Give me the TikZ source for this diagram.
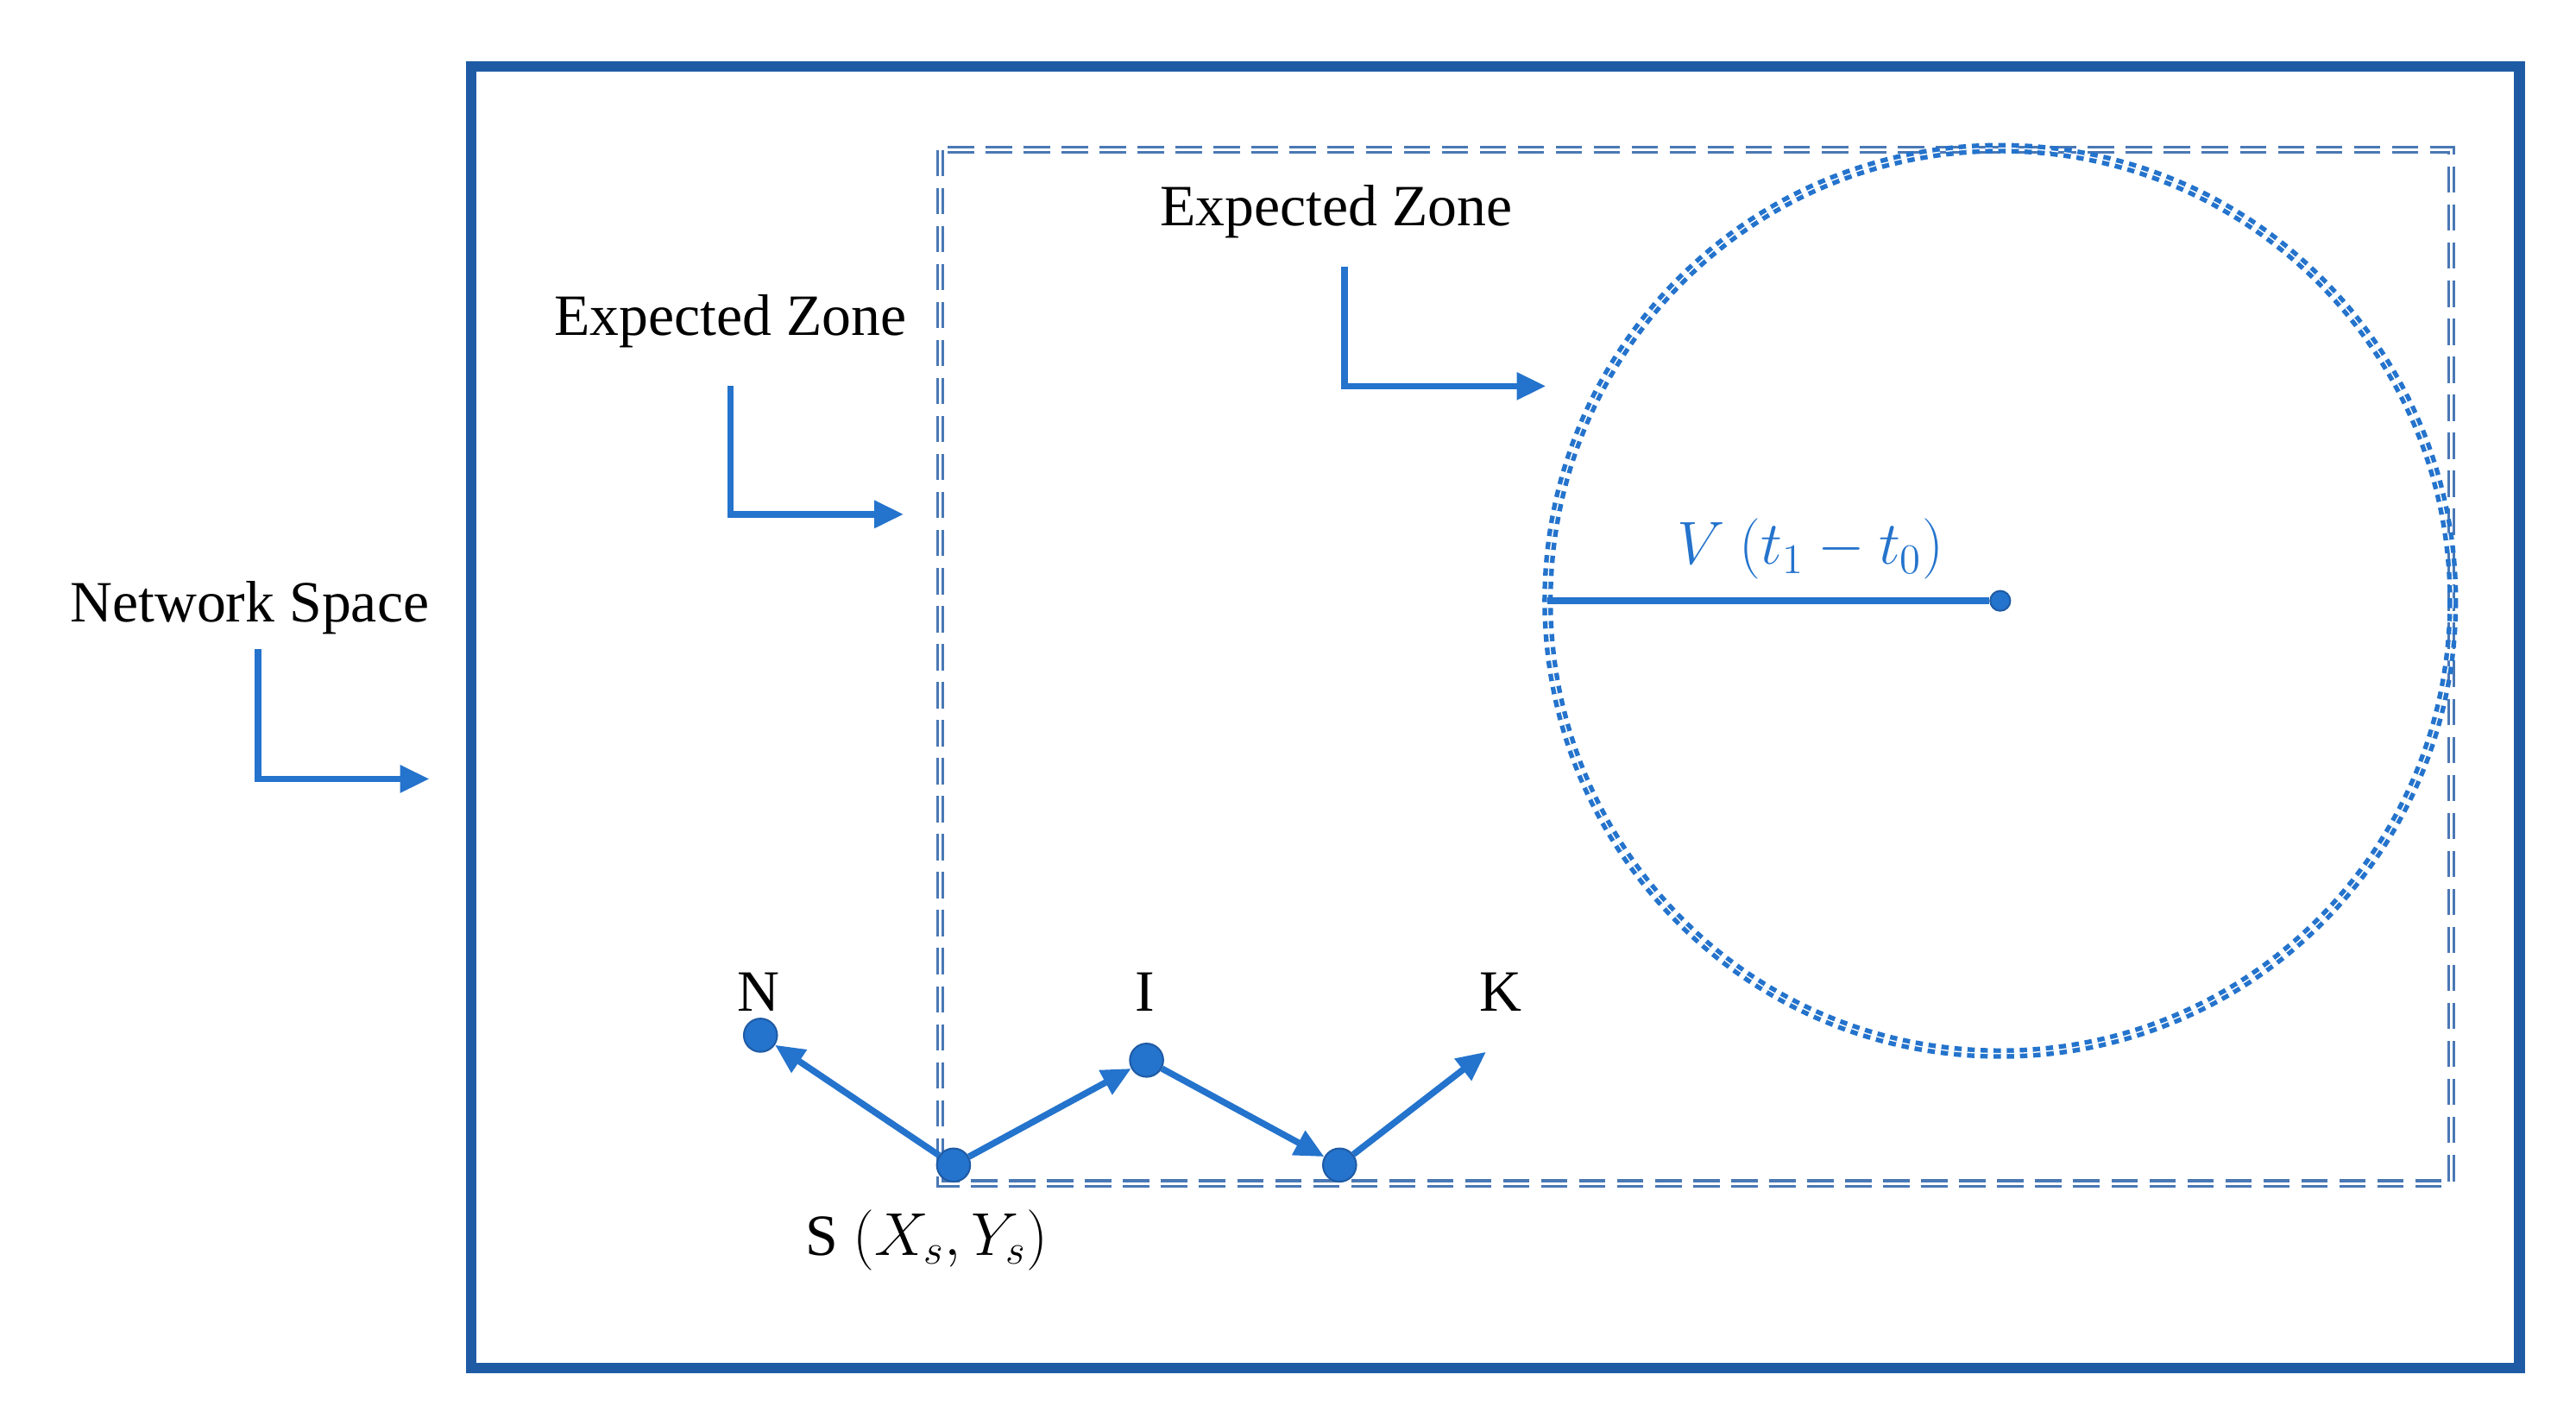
\documentclass[tikz,border=0pt]{standalone}
\usepackage{fontspec}
\setmainfont{Liberation Serif}
\usetikzlibrary{arrows.meta}
\definecolor{frame}{HTML}{1F5BA5}
\definecolor{ab}{HTML}{2473CC}
\definecolor{dz}{HTML}{4A78B5}
\tikzset{
  arr/.style={draw=ab,line width=2.2pt,-{Triangle[length=10pt,width=9pt]}},
  dotn/.style={circle,fill=ab,draw=frame,line width=0.6pt,minimum width=0.36cm,minimum height=0.4cm,inner sep=0pt},
  lbl/.style={font=\fontsize{20}{24}\selectfont,inner sep=0pt},
  dzone/.style={draw=dz,line width=1pt,double=white,double distance=0.9pt,dash pattern=on 9pt off 4pt}
}
\begin{document}
\begin{tikzpicture}[x=0.02cm,y=-0.02cm]
\useasboundingbox (0,0) rectangle (1548,856);
\draw[frame,line width=3.6pt] (283,40) rectangle (1514,822);
\draw[dzone] (565,90) rectangle (1473,711);
\draw[ab,line width=1.6pt,double=white,double distance=0.4pt,dash pattern=on 2.5pt off 2pt] (1202,361) circle [radius=272];
\node[dotn,minimum width=0.22cm,minimum height=0.24cm] (C) at (1202,361) {};
\coordinate (L) at (930,361);
\draw[ab,line width=2.2pt] (L) -- (C);
\node[lbl,text=ab] (V) at (1088,330) {$V\ (t_1 - t_0)$};
% nodes
\node[dotn] (S) at (573,700) {};
\node[dotn] (N) at (457,622) {};
\node[dotn] (I) at (689,637) {};
\node[dotn] (M) at (805,700) {};
\coordinate (K) at (893,632);
\draw[arr] (S) -- (N);
\draw[arr] (S) -- (I);
\draw[arr] (I) -- (M);
\draw[arr] (M) -- (K);
\node[lbl] (tN) at (456,596) {N};
\node[lbl] (tI) at (688,596) {I};
\node[lbl] (tK) at (902,596) {K};
\node[lbl] (tS) at (557,745) {S $(X_s,Y_s)$};
\node[lbl] (ns) at (150,365) {Network Space};
\node[lbl] (e1) at (439,193) {Expected Zone};
\node[lbl] (e2) at (803,127) {Expected Zone};
\coordinate (a1) at (155,390); \coordinate (b1) at (258,468);
\draw[arr] (a1) |- (b1);
\coordinate (a2) at (439,232); \coordinate (b2) at (543,309);
\draw[arr] (a2) |- (b2);
\coordinate (a3) at (808,160); \coordinate (b3) at (929,232);
\draw[arr] (a3) |- (b3);
\end{tikzpicture}
\end{document}
